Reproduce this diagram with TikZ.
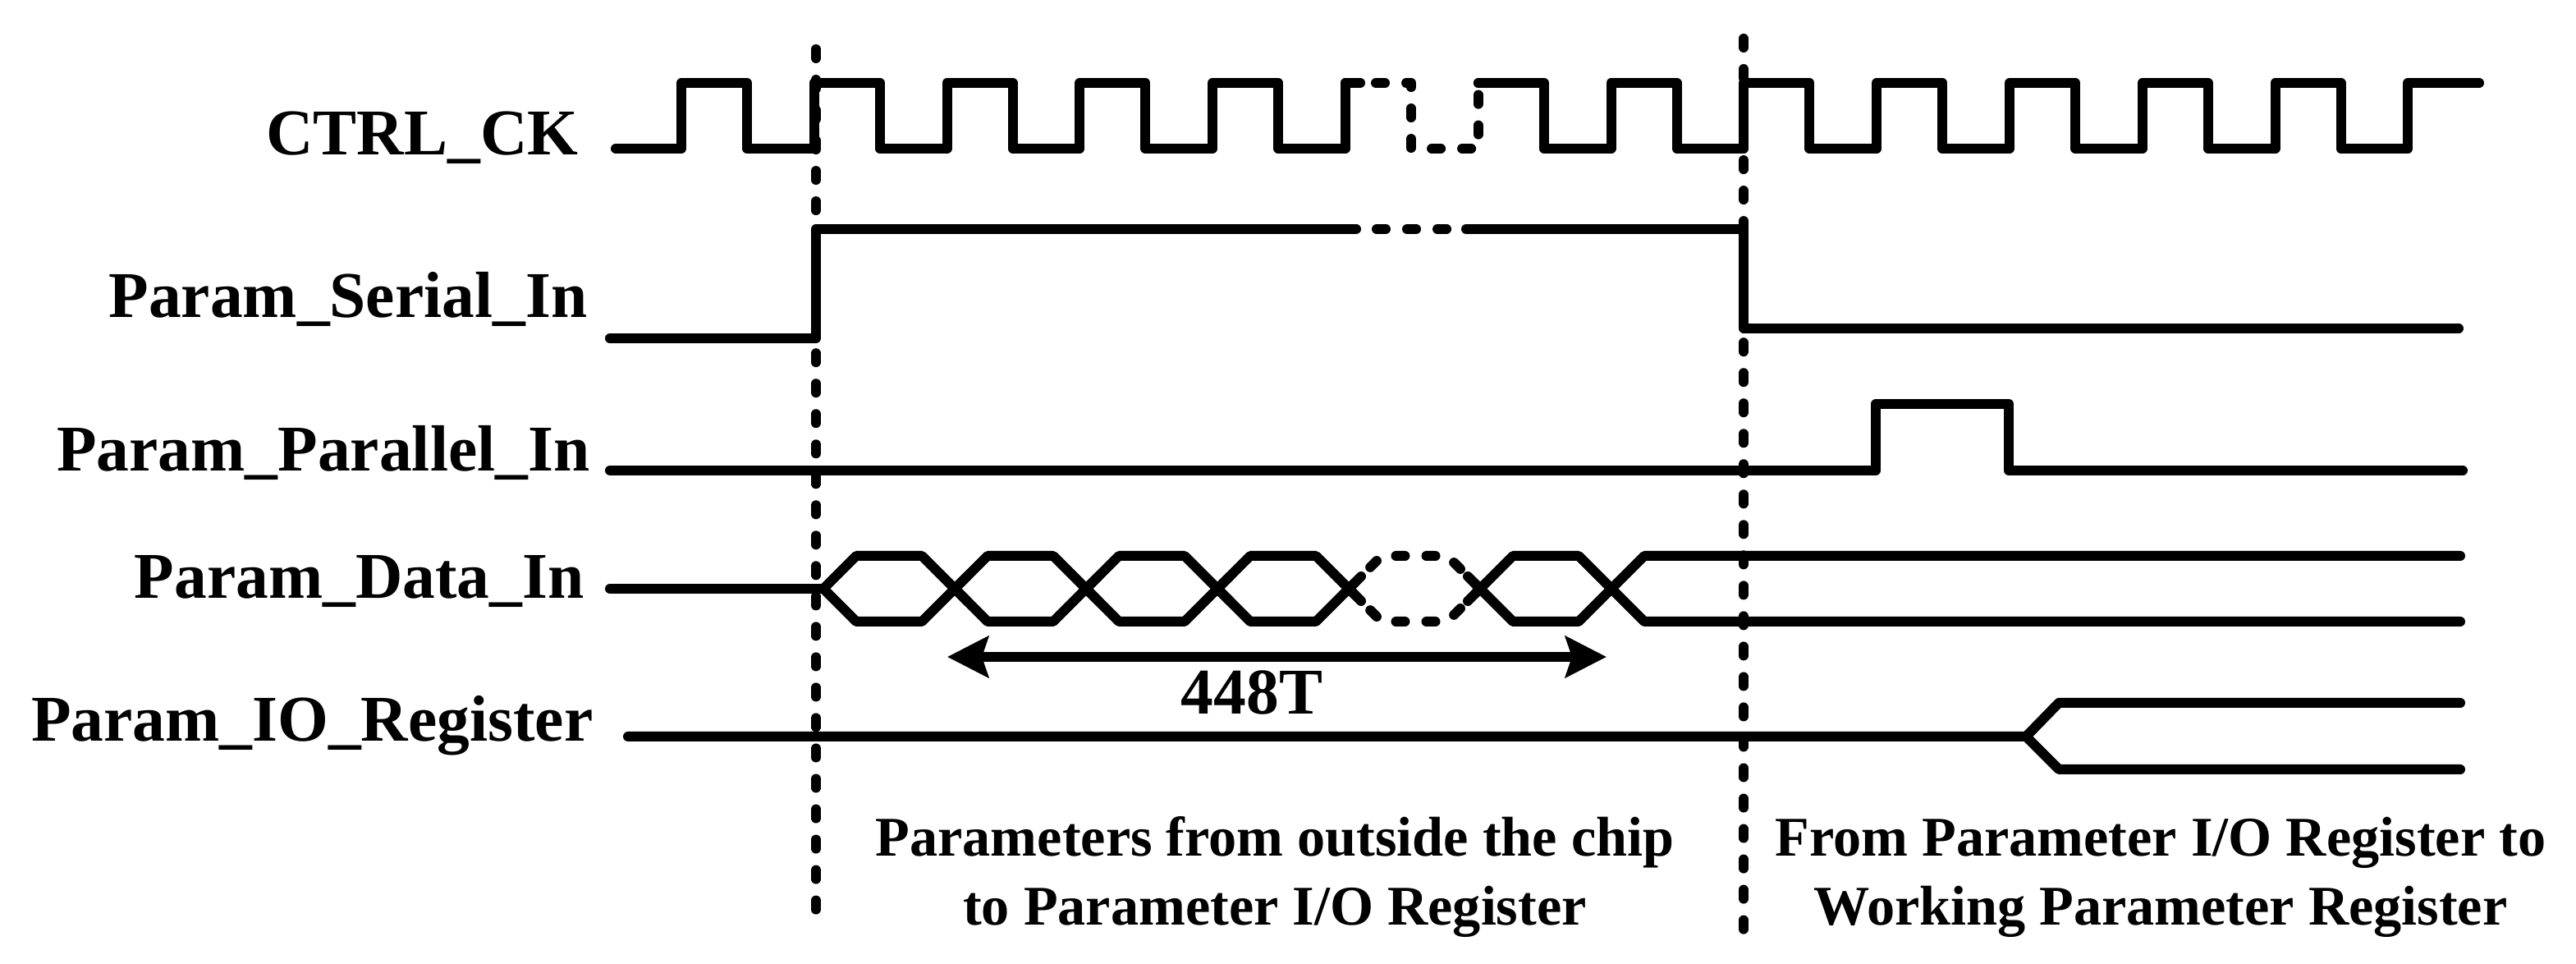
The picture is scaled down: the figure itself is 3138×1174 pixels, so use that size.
\documentclass[tikz,border=0pt]{standalone}
\usepackage{fontspec}
\setmainfont{Liberation Serif}
\usetikzlibrary{calc,arrows.meta}

\tikzset{
  sig/.style={line width=0.12cm, line cap=round, line join=round},
  dotseg/.style={sig, dash pattern=on 0.11cm off 0.26cm},
  phaseline/.style={sig, dash pattern=on 0.11cm off 0.26cm},
  signame/.style={font=\fontsize{22.6}{27}\selectfont\bfseries, inner sep=0pt},
  phasetext/.style={font=\fontsize{19.4}{23.9}\selectfont\bfseries, align=center, inner sep=0pt}
}

\begin{document}
\begin{tikzpicture}[x=0.01cm, y=-0.01cm]
        \useasboundingbox (0,0) rectangle (3138,1174);
        \node[signame, anchor=base east] (ck) at (705,189) {CTRL\_CK};
        \node[signame, anchor=base east] (serial) at (716,387) {Param\_Serial\_In};
        \node[signame, anchor=base east] (parallel) at (719,574) {Param\_Parallel\_In};
        \node[signame, anchor=base east] (data) at (712,729) {Param\_Data\_In};
        \node[signame, anchor=base east] (ioreg) at (723,903) {Param\_IO\_Register};
        \draw[phaseline] (994,60) -- (994,1113);
        \draw[phaseline] (2124,47) -- (2124,1145);
        \draw[sig] (750,181) foreach \k in {0,...,4} { -- ({830+\k*161.8},181) -- ++(0,-80) -- ++(80,0) -- ++(0,80) }
            -- ({830+5*161.8},181) -- ++(0,-80) -- ++(18,0);
        \draw[dotseg] ({830+5*161.8},101) -- ++(80,0) -- ++(0,80) -- ({830+6*161.8},181) -- ++(0,-80);
        \draw[sig] ({830+6*161.8},101) foreach \k in {6,...,12} { -- ++(80,0) -- ++(0,80) -- ({830+(\k+1)*161.8},181) -- ++(0,-80) }
            -- (3020,101);
        \draw[sig] (743,412) -- (994,412) -- (994,279) -- (1652,279);
        \draw[dotseg] (1677,279) -- (1763,279);
        \draw[sig] (1786,279) -- (2124,279) -- (2124,400) -- (2995,400);
        \draw[sig] (743,573) -- (2285,573) -- (2285,492) -- (2447,492) -- (2447,573) -- (3000,573);
        \draw[sig] (743,717) -- (1003,717);
        \foreach \j in {0,...,3} {
        \draw[sig] ({1003+160*\j},717) -- ++(40,-40) -- ({1123+160*\j},677) -- ++(55,55);
        \draw[sig] ({1003+160*\j},717) -- ++(40,40) -- ({1123+160*\j},757) -- ++(55,-55);
        }
        \draw[dotseg] (1643,717) -- (1683,677) -- (1763,677) -- (1803,717);
        \draw[dotseg] (1643,717) -- (1683,757) -- (1763,757) -- (1803,717);
        \draw[sig] (1788,702) -- (1843,757) -- (1923,757) -- (2003,677) -- (2997,677);
        \draw[sig] (1788,732) -- (1843,677) -- (1923,677) -- (2003,757) -- (2997,757);
        \draw[sig] (765,897) -- (2468,897) -- (2508,856) -- (2997,856);
        \draw[sig] (2468,897) -- (2508,937) -- (2997,937);
        \coordinate (spanL) at (1154,800);
        \coordinate (spanR) at (1957,800);
        \draw[sig, {Stealth[length=0.5cm, width=0.5cm, inset=0.08cm]}-{Stealth[length=0.5cm, width=0.5cm, inset=0.08cm]}] (spanL) -- (spanR);
        \node[signame, anchor=base] (span) at (1525,870) {448T};
        \node[phasetext, anchor=base] (outside) at (1553,1127) {Parameters from outside the chip\\to Parameter I/O Register};
        \node[phasetext, anchor=base] (working) at (2632,1127) {From Parameter I/O Register to\\Working Parameter Register};
    \end{tikzpicture}
\end{document}
